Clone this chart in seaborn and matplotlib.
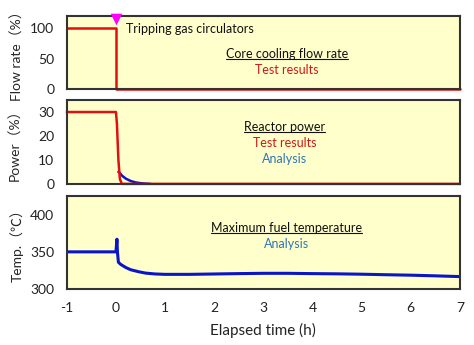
import numpy as np
import pandas as pd
import matplotlib
matplotlib.use("Agg")
import matplotlib.pyplot as plt
import seaborn as sns
from matplotlib.lines import Line2D

sns.set_theme(style="white")
plt.rcParams['font.family'] = ['Lato', 'Noto Sans CJK JP', 'DejaVu Sans']
plt.rcParams['axes.unicode_minus'] = False

# ---- data ----
flow_t = [-1.0, 0.0, 0.0, 7.0]
flow_v = [100, 100, 0, 0]

power_test_t = [-1.0, 0.0, 0.02, 0.05, 0.08, 0.12, 7.0]
power_test_v = [30, 30, 25, 10, 2, 0, 0]

power_ana_t = [0.05, 0.08, 0.12, 0.2, 0.3, 0.4, 0.5, 0.6, 0.7]
power_ana_v = [5.0, 4.5, 3.5, 2.2, 1.2, 0.6, 0.3, 0.1, 0.0]

temp_t = [-1.0, 0.0, 0.02, 0.03, 0.05, 0.1, 0.2, 0.3, 0.45, 0.6, 0.8, 1.0, 1.5, 2.0,
          2.5, 3.0, 3.5, 4.0, 4.5, 5.0, 5.5, 6.0, 6.5, 7.0]
temp_v = [350, 350, 367, 350, 336, 333, 329, 326, 323.5, 321.5, 320.3, 319.8, 319.8, 320.3,
          320.8, 321.2, 321.2, 320.8, 320.5, 320.0, 319.3, 318.7, 317.8, 316.8]

xticks = [-1, 0, 1, 2, 3, 4, 5, 6, 7]

RED = '#E01010'
BLUE = '#0A14C8'
TXT_RED = '#D01818'
TXT_BLUE = '#2E75B6'
BG = '#FFFFCC'

fig = plt.figure(figsize=(4.74, 3.45), dpi=100)
L, R = 0.141, 0.970
ax1 = fig.add_axes([L, 0.742, R - L, 0.954 - 0.742])
ax2 = fig.add_axes([L, 0.467, R - L, 0.710 - 0.467])
ax3 = fig.add_axes([L, 0.162, R - L, 0.432 - 0.162])

for ax in (ax1, ax2, ax3):
    ax.set_facecolor(BG)
    ax.set_xlim(-1, 7)
    ax.set_xticks(xticks)
    for s in ax.spines.values():
        s.set_color('#333333')
        s.set_linewidth(1.5)
    ax.tick_params(direction='in', length=3, width=0.6, color='#999999',
                   labelsize=10, labelcolor='#222222')
    ax.tick_params(axis='y', pad=9)
    ax.tick_params(axis='x', pad=9)

df1 = pd.DataFrame({'t': flow_t, 'v': flow_v})
sns.lineplot(data=df1, x='t', y='v', ax=ax1, color=RED, lw=1.8, estimator=None, sort=False, clip_on=False)
ax1.set_ylim(0, 120)
ax1.set_yticks([0, 50, 100])
ax1.set_xticklabels([])
ax1.set_xlabel('')
ax1.set_ylabel('Flow rate（%）', fontsize=10, labelpad=5)
ax1.scatter([0], [115], marker='v', s=70, color='#FF00FF', clip_on=False, zorder=10, linewidths=0)

df2a = pd.DataFrame({'t': power_ana_t, 'v': power_ana_v})
df2t = pd.DataFrame({'t': power_test_t, 'v': power_test_v})
sns.lineplot(data=df2a, x='t', y='v', ax=ax2, color=BLUE, lw=1.8, estimator=None, sort=False)
sns.lineplot(data=df2t, x='t', y='v', ax=ax2, color=RED, lw=1.8, estimator=None, sort=False, clip_on=False)
ax2.set_ylim(0, 35)
ax2.set_yticks([0, 10, 20, 30])
ax2.set_xticklabels([])
ax2.set_xlabel('')
ax2.set_ylabel('Power（%）', fontsize=10, labelpad=12)

df3 = pd.DataFrame({'t': temp_t, 'v': temp_v})
sns.lineplot(data=df3, x='t', y='v', ax=ax3, color=BLUE, lw=2.2, estimator=None, sort=False)
ax3.set_ylim(300, 425)
ax3.set_yticks([300, 350, 400])
ax3.set_ylabel('Temp.（℃）', fontsize=10, labelpad=5)
ax3.set_xlabel('Elapsed time (h)', fontsize=11, labelpad=7, color='#222222')

fig.align_ylabels([ax1, ax2, ax3])

fs = 9
ax1.text(0.15, 0.82, 'Tripping gas circulators', transform=ax1.transAxes, fontsize=fs,
         ha='left', va='center', color='#111111')
t1 = ax1.text(0.56, 0.48, 'Core cooling flow rate', transform=ax1.transAxes, fontsize=fs,
              ha='center', va='center', color='#111111')
ax1.text(0.56, 0.26, 'Test results', transform=ax1.transAxes, fontsize=fs,
         ha='center', va='center', color=TXT_RED)

t2 = ax2.text(0.555, 0.68, 'Reactor power', transform=ax2.transAxes, fontsize=fs,
              ha='center', va='center', color='#111111')
ax2.text(0.555, 0.49, 'Test results', transform=ax2.transAxes, fontsize=fs,
         ha='center', va='center', color=TXT_RED)
ax2.text(0.555, 0.30, 'Analysis', transform=ax2.transAxes, fontsize=fs,
         ha='center', va='center', color=TXT_BLUE)

t3 = ax3.text(0.56, 0.656, 'Maximum fuel temperature', transform=ax3.transAxes, fontsize=fs,
              ha='center', va='center', color='#111111')
ax3.text(0.56, 0.48, 'Analysis', transform=ax3.transAxes, fontsize=fs,
         ha='center', va='center', color=TXT_BLUE)

fig.canvas.draw()
r = fig.canvas.get_renderer()
inv = fig.transFigure.inverted()
for t in (t1, t2, t3):
    bb = t.get_window_extent(renderer=r)
    (x0, y0), (x1, _) = inv.transform([(bb.x0, bb.y0), (bb.x1, bb.y1)])
    fig.add_artist(Line2D([x0, x1], [y0 + 0.002, y0 + 0.002], transform=fig.transFigure,
                          color='#111111', lw=0.8))

fig.savefig('out.png', dpi=100)
